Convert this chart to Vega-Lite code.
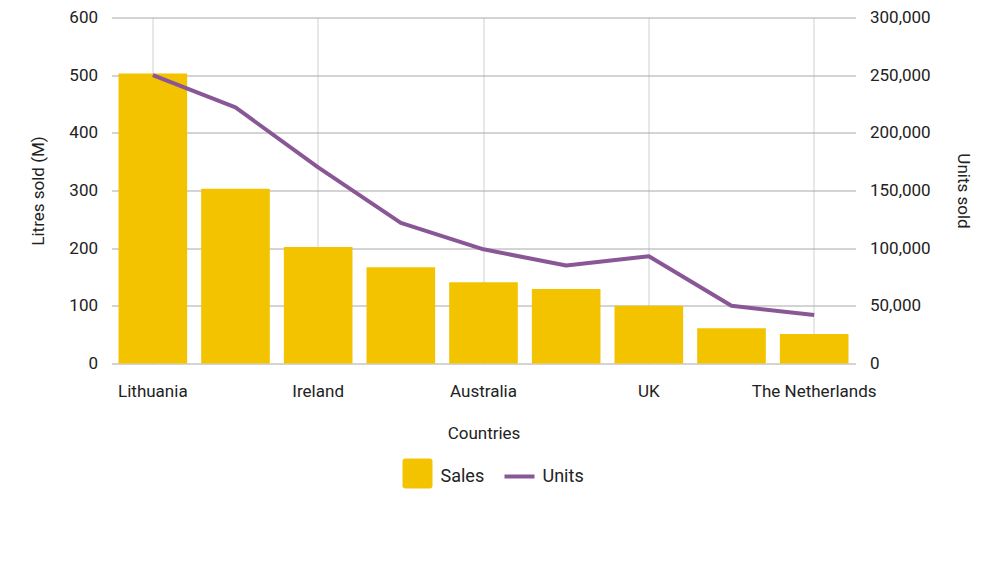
{
  "$schema": "https://vega.github.io/schema/vega-lite/v6.json",
  "width": 744,
  "height": 346,
  "autosize": {"type": "none"},
  "padding": {"left": 111.5, "top": 17.5, "right": 144.5, "bottom": 198.5},
  "background": "white",
  "config": {
    "view": {"stroke": null},
    "font": "Roboto",
    "axis": {"labelFont": "Roboto", "titleFont": "Roboto", "labelFontSize": 17, "titleFontSize": 17, "labelColor": "#222", "titleColor": "#222", "titleFontWeight": "normal"}
  },
  "data": {
    "values": [
      {"country": "Lithuania", "sales": 503, "units": 250000},
      {"country": "Czech Republic", "sales": 303, "units": 222000},
      {"country": "Ireland", "sales": 202, "units": 170000},
      {"country": "Germany", "sales": 167, "units": 122000},
      {"country": "Australia", "sales": 141, "units": 99000},
      {"country": "Austria", "sales": 129, "units": 85000},
      {"country": "UK", "sales": 100, "units": 93000},
      {"country": "Belgium", "sales": 61, "units": 50000},
      {"country": "The Netherlands", "sales": 51, "units": 42000}
    ]
  },
  "encoding": {
    "x": {
      "field": "country",
      "type": "nominal",
      "sort": null,
      "title": "Countries",
      "scale": {"paddingInner": 0.17, "paddingOuter": 0.085},
      "axis": {
        "values": ["Lithuania", "Ireland", "Australia", "UK", "The Netherlands"],
        "labelAngle": 0,
        "ticks": false,
        "domain": false,
        "grid": true,
        "gridColor": "#d0d0d0",
        "gridWidth": 1,
        "labelPadding": 20,
        "labelOverlap": false,
        "titlePadding": 26
      }
    }
  },
  "layer": [
    {
      "mark": {"type": "bar", "color": "#f3c300"},
      "encoding": {
        "y": {
          "field": "sales",
          "type": "quantitative",
          "title": "Litres sold (M)",
          "scale": {"domain": [0, 600]},
          "axis": {"values": [0, 100, 200, 300, 400, 500, 600], "grid": true, "gridColor": "#a8a8a8", "gridWidth": 1, "domain": false, "ticks": false, "labelPadding": 14, "titlePadding": 21}
        },
        "color": {
          "datum": "Sales",
          "scale": {"domain": ["Sales", "Units"], "range": ["#f3c300", "#8a5796"]},
          "legend": {
            "title": null,
            "orient": "none",
            "direction": "horizontal",
            "legendX": 297,
            "legendY": 447,
            "gridAlign": "all",
            "labelFont": "Roboto",
            "labelFontSize": 18,
            "labelColor": "#222",
            "symbolSize": 900,
            "columnPadding": 12,
            "labelOffset": 14,
            "encode": {
              "labels": {
                "update": {
                  "dy": {"signal": "datum.value === 'Units' ? 0 : 3"}
                }
              },
              "symbols": {
                "update": {
                  "shape": {"signal": "datum.value === 'Units' ? 'stroke' : 'M-0.8,-1H0.8Q1,-1 1,-0.8V0.8Q1,1 0.8,1H-0.8Q-1,1 -1,0.8V-0.8Q-1,-1 -0.8,-1Z'"},
                  "fill": {"signal": "datum.value === 'Units' ? 'transparent' : '#f3c300'"},
                  "stroke": {"signal": "datum.value === 'Units' ? '#8a5796' : '#f3c300'"},
                  "strokeWidth": {"signal": "datum.value === 'Units' ? 4 : 0"},
                  "opacity": {"value": 1}
                }
              }
            }
          }
        }
      }
    },
    {
      "mark": {"type": "line", "strokeWidth": 4, "strokeJoin": "round", "color": "#8a5796"},
      "encoding": {
        "y": {
          "field": "units",
          "type": "quantitative",
          "title": "Units sold",
          "scale": {"domain": [0, 300000]},
          "axis": {"orient": "right", "values": [0, 50000, 100000, 150000, 200000, 250000, 300000], "format": ",.0f", "grid": false, "domain": false, "ticks": false, "labelPadding": 14, "titlePadding": 23, "titleAngle": 90}
        },
        "color": {"datum": "Units"}
      }
    }
  ],
  "resolve": {"scale": {"y": "independent"}}
}
